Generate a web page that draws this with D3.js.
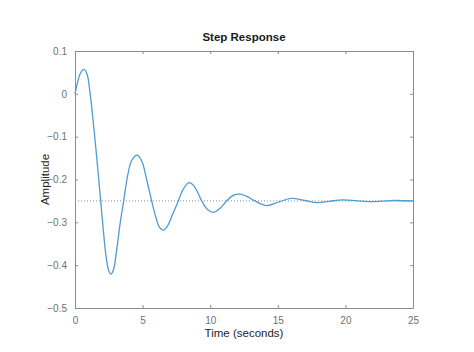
<!DOCTYPE html>
<html><head><meta charset="utf-8">
<script src="https://cdn.jsdelivr.net/npm/d3@7"></script>
<style>body{margin:0;background:#fff;}svg{display:block;font-family:"Liberation Sans",Arial,sans-serif;}</style>
</head><body>
<svg id="chart" width="474" height="352"></svg>
<script>
const timeValues = [0,0.2,0.4,0.67,0.9,1.1,1.3,1.55,1.8,1.9,2.1,2.3,2.5,2.66,2.85,3.1,3.35,3.6,3.9,4.2,4.61,4.95,5.3,5.67,6.0,6.25,6.53,6.85,7.2,7.64,8.0,8.43,8.8,9.37,9.8,10.23,10.7,11.22,11.7,12.2,12.75,13.3,14.18,15.1,16.0,17.0,17.9,18.8,19.8,20.8,21.7,22.7,23.6,25];
const amplitudeValues = [0,0.028,0.048,0.057,0.045,0.005,-0.05,-0.13,-0.215,-0.25,-0.32,-0.38,-0.413,-0.421,-0.41,-0.36,-0.30,-0.25,-0.19,-0.155,-0.143,-0.158,-0.20,-0.25,-0.29,-0.312,-0.318,-0.308,-0.283,-0.25,-0.223,-0.2075,-0.215,-0.25,-0.27,-0.2766,-0.268,-0.25,-0.237,-0.234,-0.24,-0.25,-0.261,-0.252,-0.244,-0.249,-0.254,-0.251,-0.2475,-0.2495,-0.2515,-0.2505,-0.249,-0.2502];
const steadyState = -0.25;
const xTicks = [0,5,10,15,20,25];
const yTicks = [0.1,0,-0.1,-0.2,-0.3,-0.4,-0.5];
const titleText = "Step Response";
const xLabel = "Time (seconds)";
const yLabel = "Amplitude";

const svg = d3.select("#chart");
const L = 75, R = 413, T = 51, B = 308;
const x = d3.scaleLinear().domain([0,25]).range([L,R]);
const y = d3.scaleLinear().domain([-0.5,0.1]).range([B,T]);
const axisColor = "#8c8c8c", textColor = "#707070";

// box
svg.append("rect").attr("x",L).attr("y",T).attr("width",R-L).attr("height",B-T)
  .attr("fill","#fff").attr("stroke","none");

// steady state dotted line
svg.append("line").attr("x1",x(0)).attr("x2",x(25)).attr("y1",y(steadyState)).attr("y2",y(steadyState))
  .attr("stroke","#8a8a8a").attr("stroke-width",1).attr("stroke-dasharray","1,2");

// curve
const data = timeValues.map((t,i)=>[t,amplitudeValues[i]]);
svg.append("path").datum(data)
  .attr("d", d3.line().x(d=>x(d[0])).y(d=>y(d[1])).curve(d3.curveCatmullRom.alpha(0.5)))
  .attr("fill","none").attr("stroke","#4d9cd3").attr("stroke-width",1.3);

// axes
function styleAxis(g){
  g.select(".domain").attr("stroke",axisColor);
  g.selectAll(".tick line").attr("stroke",axisColor);
  g.selectAll(".tick text").attr("fill",textColor).style("font-size","10px");
}
svg.append("g").attr("transform",`translate(0,${B})`)
  .call(d3.axisBottom(x).tickValues(xTicks).tickSizeInner(-3).tickSizeOuter(0).tickPadding(9).tickFormat(d3.format("d")))
  .call(styleAxis);
svg.append("g").attr("transform",`translate(0,${T})`)
  .call(d3.axisTop(x).tickValues(xTicks).tickSizeInner(-3).tickSizeOuter(0).tickFormat(""))
  .call(styleAxis);
svg.append("g").attr("transform",`translate(${L},0)`)
  .call(d3.axisLeft(y).tickValues(yTicks).tickSizeInner(-3).tickSizeOuter(0).tickPadding(8).tickFormat(d=>d===0?"0":d3.format(".1f")(d)))
  .call(styleAxis);
svg.append("g").attr("transform",`translate(${R},0)`)
  .call(d3.axisRight(y).tickValues(yTicks).tickSizeInner(-3).tickSizeOuter(0).tickFormat(""))
  .call(styleAxis);

// labels
svg.append("text").attr("x",(L+R)/2).attr("y",41).attr("text-anchor","middle")
  .style("font-size","11.5px").style("font-weight","bold").attr("fill","#1a1a1a").text(titleText);
svg.append("text").attr("x",(L+R)/2).attr("y",337).attr("text-anchor","middle")
  .style("font-size","11.5px").attr("fill","#262626").text(xLabel);
svg.append("text").attr("transform",`translate(49,${(T+B)/2}) rotate(-90)`).attr("text-anchor","middle")
  .style("font-size","11.5px").attr("fill","#262626").text(yLabel);
</script>
</body></html>
